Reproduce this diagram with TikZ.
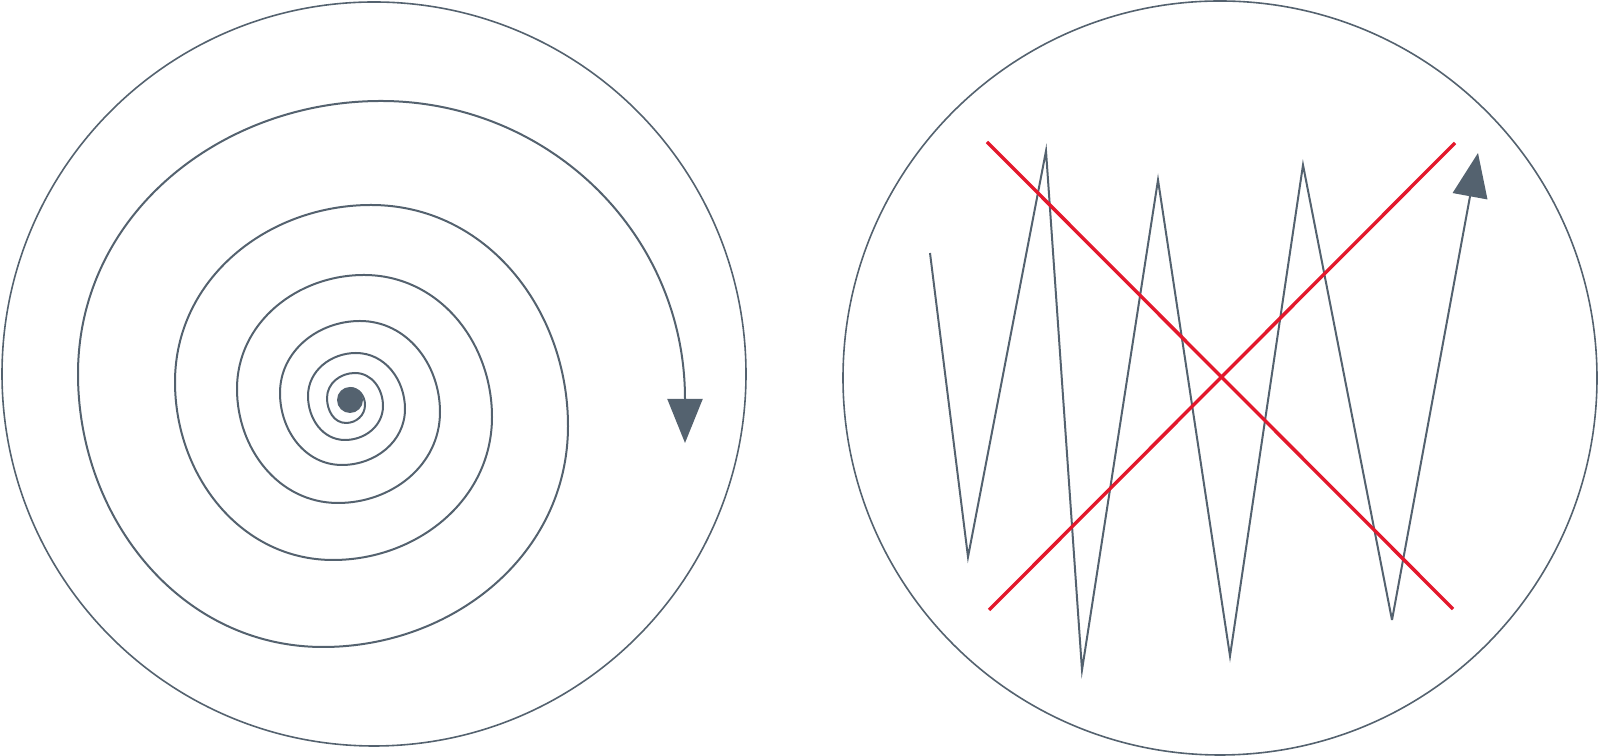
\documentclass[tikz,border=0pt]{standalone}
\usepackage{tikz}
\usepackage{xcolor}
\usetikzlibrary{
    arrows.meta,
    calc
}
\definecolor{slate}{RGB}{84,98,111}
\definecolor{crossred}{RGB}{227,24,44}

\begin{document}
\begin{tikzpicture}[x=0.1mm, y=0.1mm,
        rim/.style={draw=slate, line width=0.16mm},
        trail/.style={draw=slate, line width=0.2mm},
        cross/.style={draw=crossred, line width=0.34mm},
        bighead/.style={-{Triangle[length=4.4mm, width=3.5mm]}}]
    \useasboundingbox (0, 0) rectangle (1600, 756);
    \draw[rim] (374, 382) circle (372);
    \draw[rim] (1220, 378) circle (377);
    \fill[slate] (350, 356) circle (13);
    \coordinate (start) at (350, 368);
    \coordinate (bend) at (685, 357);
    \coordinate (down) at (685, 313);
    \draw[trail]
    (start)
    to[out=0, in=90] (365, 351)
    to[out=-90, in=0] (346, 333)
    to[out=180, in=-90] (327, 358)
    to[out=90, in=180] (355, 383)
    to[out=0, in=90] (383, 350)
    to[out=-90, in=0] (345, 316)
    to[out=180, in=-90] (308, 360)
    to[out=90, in=180] (356, 403)
    to[out=0, in=90] (405, 347)
    to[out=-90, in=0] (342, 291)
    to[out=180, in=-90] (280, 363)
    to[out=90, in=180] (360, 435)
    to[out=0, in=90] (440, 344)
    to[out=-90, in=0] (338, 253)
    to[out=180, in=-90] (237, 367)
    to[out=90, in=180] (364, 481)
    to[out=0, in=90] (492, 339)
    to[out=-90, in=0] (333, 196)
    to[out=180, in=-90] (175, 374)
    to[out=90, in=180] (371, 551)
    to[out=0, in=90] (568, 330)
    to[out=-90, in=0] (323, 109)
    to[out=180, in=-90] (78, 382)
    to[out=90, in=180] (381, 655)
    to[out=0, in=90] (bend);
    \draw[trail, bighead] (bend) -- (down);
    \coordinate (z1) at (930, 503);
    \coordinate (z2) at (968, 199);
    \coordinate (z3) at (1046, 605);
    \coordinate (z4) at (1082, 86);
    \coordinate (z5) at (1158, 576);
    \coordinate (z6) at (1230, 100);
    \coordinate (z7) at (1303, 591);
    \coordinate (z8) at (1392, 136);
    \coordinate (up) at (1478, 603);
    \draw[trail] (z1) -- (z2) -- (z3) -- (z4) -- (z5) -- (z6) -- (z7) -- (z8);
    \draw[trail, bighead] (z8) -- (up);
    \coordinate (a1) at (987, 614);
    \coordinate (a2) at (1453, 147);
    \coordinate (b1) at (989, 146);
    \coordinate (b2) at (1455, 613);
    \draw[cross] (a1) -- (a2);
    \draw[cross] (b1) -- (b2);
\end{tikzpicture}
\end{document}
